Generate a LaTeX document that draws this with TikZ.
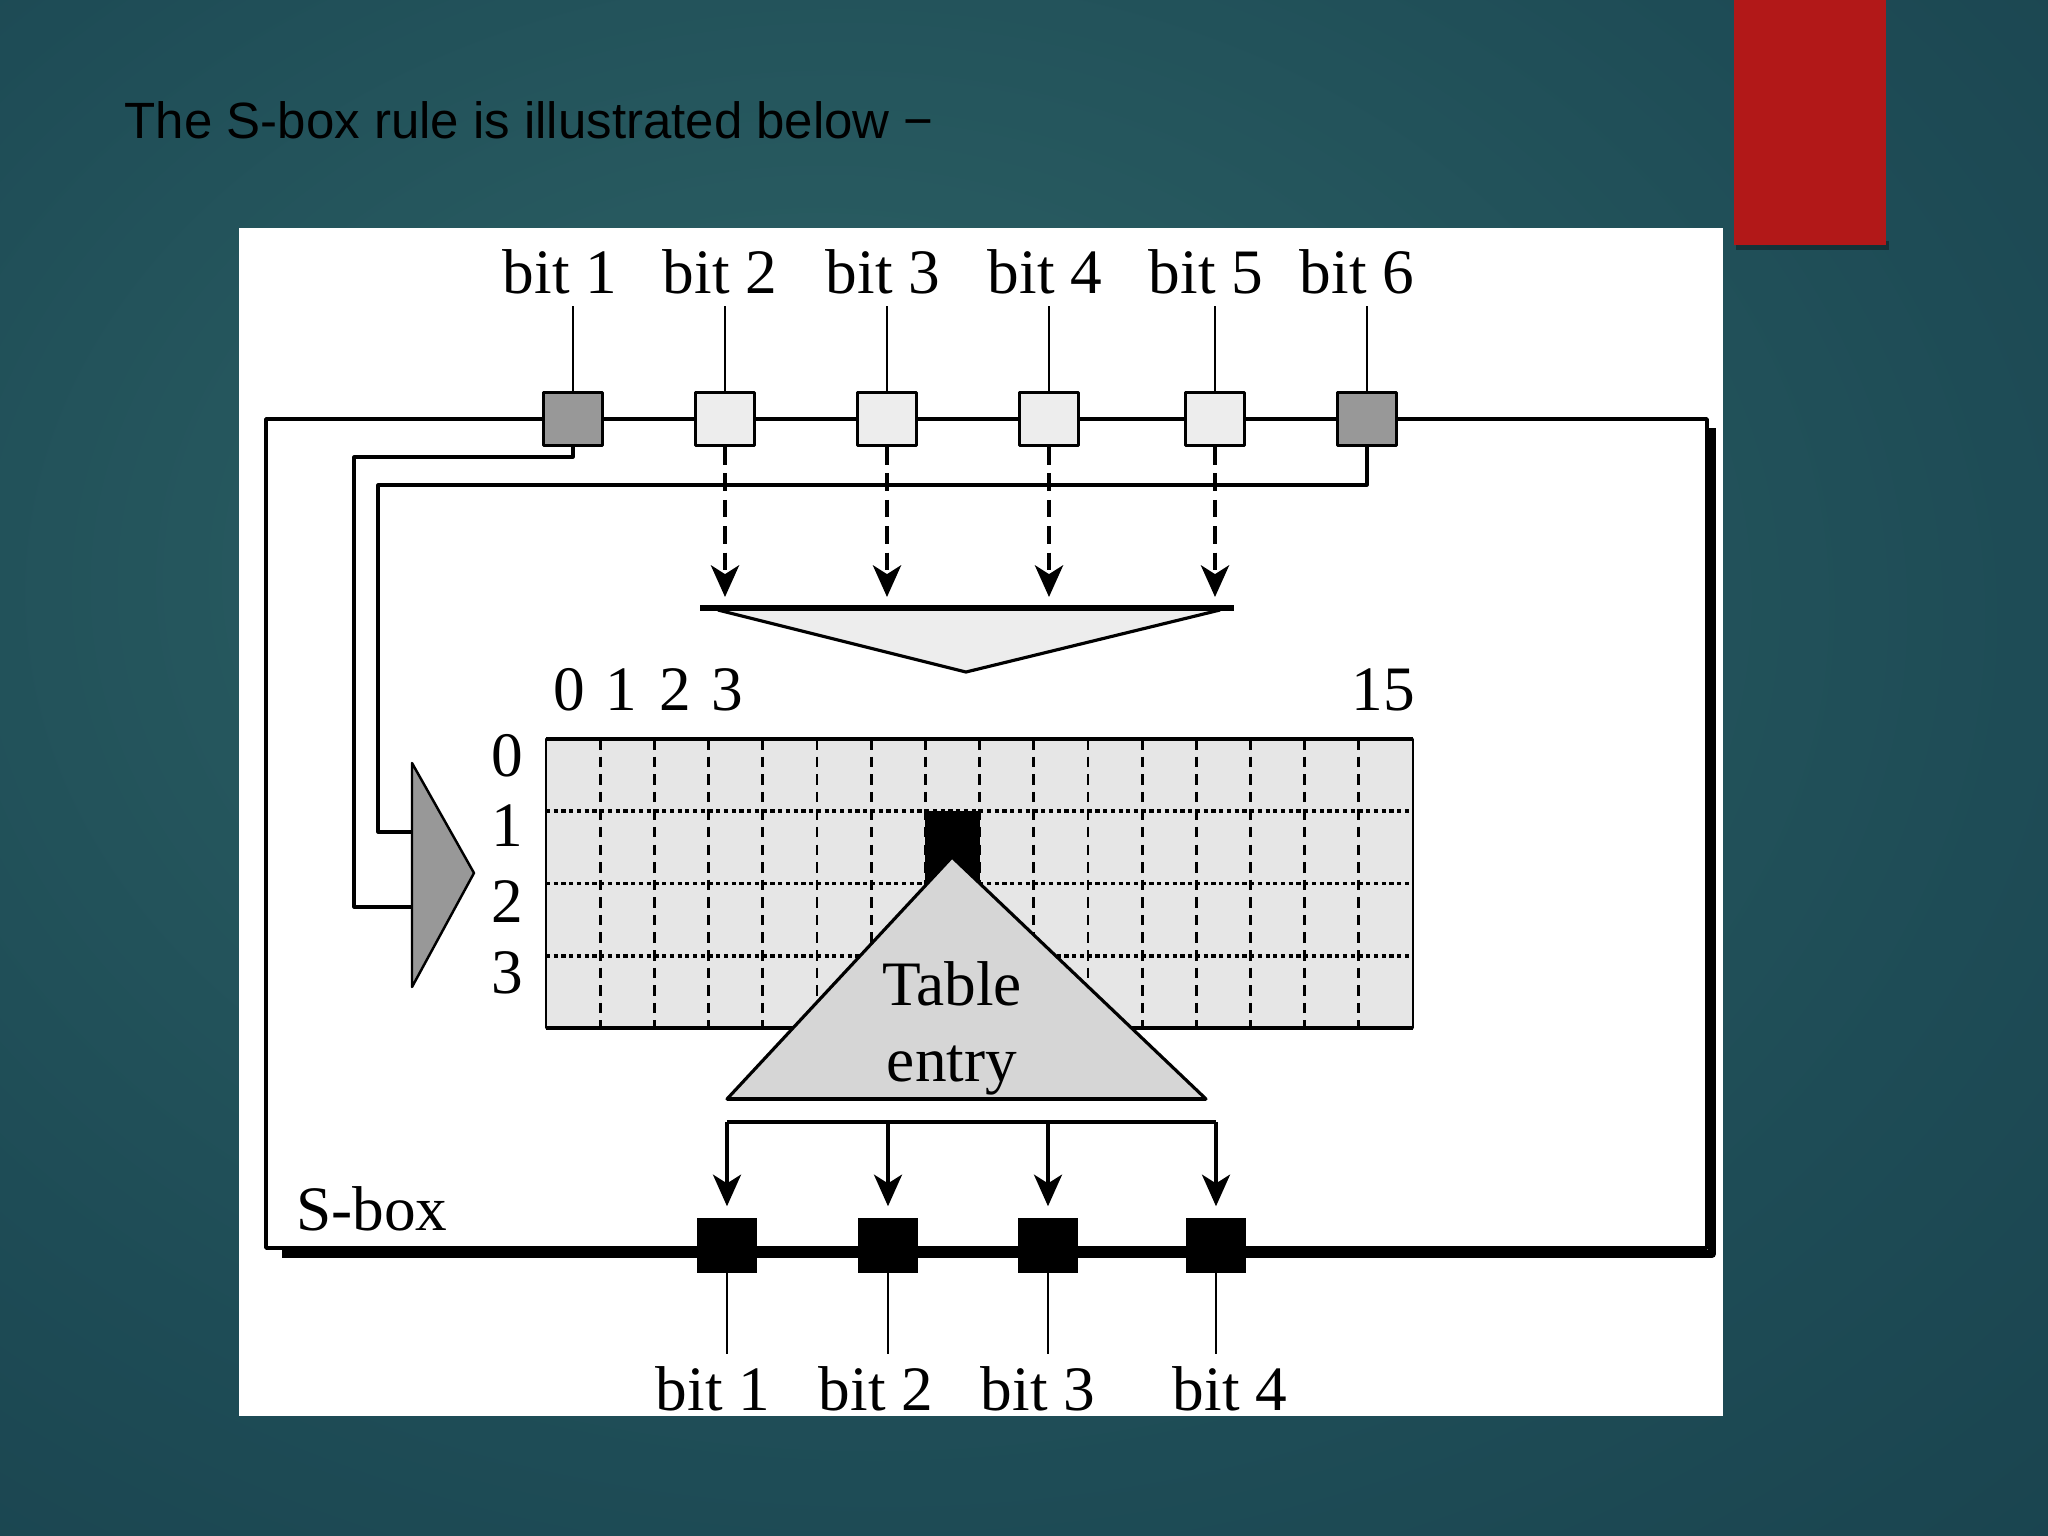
\documentclass[tikz,border=0pt]{standalone}
\usepackage{fontspec}
\setmainfont{Liberation Serif}
\newfontfamily\titlefont{Liberation Sans}
\usetikzlibrary{arrows.meta}
\definecolor{bgdark}{RGB}{16,48,62}
\definecolor{bgmid}{RGB}{30,76,86}
\definecolor{bglight}{RGB}{46,99,102}
\definecolor{slidered}{RGB}{178,24,24}
\definecolor{keygray}{RGB}{152,152,152}
\definecolor{cellgray}{RGB}{230,230,230}
\definecolor{entrygray}{RGB}{214,214,214}
\pgfdeclareradialshading{slidebg}{\pgfpoint{-6bp}{8bp}}{color(0bp)=(bglight); color(28bp)=(bgmid); color(70bp)=(bgdark)}
\tikzset{
  inbox/.style={draw, line width=0.9pt, minimum width=0.59cm, minimum height=0.53cm, inner sep=0pt, fill=cellgray!70!white},
  keybox/.style={inbox, fill=keygray},
  outbox/.style={fill=black, minimum width=0.6cm, minimum height=0.55cm, inner sep=0pt},
  bitlabel/.style={anchor=base},
  wire/.style={line width=0.9pt},
  dasharrow/.style={->, line width=1.2pt, dash pattern=on 5pt off 2.5pt},
  griddash/.style={line width=0.8pt, dash pattern=on 3pt off 2pt},
  griddot/.style={line width=1.1pt, dash pattern=on 1.2pt off 1pt}
}
\begin{document}
\begin{tikzpicture}[x=0.01cm, y=-0.01cm, line join=round, >={Stealth[length=9pt,width=8pt,inset=2.5pt]}, font=\fontsize{18}{21.6}\selectfont]
\shade[shading=slidebg] (0,0) rectangle (2048,1536);
\useasboundingbox (0,0) rectangle (2048,1536);
\fill[black, opacity=0.35] (1736,241) rectangle (1889,250);
\fill[slidered] (1734,0) rectangle (1886,245);
\node[font=\titlefont\fontsize{14.5}{17}\selectfont, anchor=base west, inner sep=0pt] (title) at (124,138) {The S-box rule is illustrated below −};
\fill[white] (239,228) rectangle (1723,1416);
\draw[line width=2.3pt] (282,1254) -| (1712,428);
\draw[line width=1pt] (266,419) rectangle (1707,1248);
\node[anchor=base west] (sbox) at (284,1230) {S-box};
\foreach \i/\x/\s in {1/573/keybox,2/725/inbox,3/887/inbox,4/1049/inbox,5/1215/inbox,6/1367/keybox}
  \node[\s] (in\i) at (\x,419) {};
\foreach \i/\x in {1/560,2/720,3/883,4/1045,5/1206,6/1357}{
  \node[bitlabel] (lin\i) at (\x,293) {bit \i};
  \draw[line width=0.6pt] (in\i.north) -- (in\i.north |- lin\i.south);}
\coordinate (funnel) at (0,597);
\foreach \i in {2,...,5}
  \draw[dasharrow] (in\i.south) -- (in\i.south |- funnel);
\filldraw[fill=cellgray!70!white, line width=0.9pt] (718,610) -- (966,672) -- (1220,610);
\draw[line width=1.6pt] (700,608) -- (1234,608);
\fill[cellgray] (546,739) rectangle (1413,1028);
\foreach \c in {1,...,15}
  \draw[griddash] (546+54.19*\c,739) -- (546+54.19*\c,1028);
\foreach \r in {1,2,3}
  \draw[griddot] (546,739+72.25*\r) -- (1413,739+72.25*\r);
\fill[black] (925.3,811.25) rectangle (979.5,883.5);
\draw[line width=0.7pt] (546,739) rectangle (1413,1028);
\draw[line width=1.4pt] (546,739) -- (1413,739) (546,1028) -- (1413,1028);
\foreach \r/\y in {0/756,1/826,2/902,3/973}
  \node (row\r) at (507,\y) {\r};
\foreach \c/\x in {0/569,1/621,2/675,3/727,15/1383}
  \node (col\c) at (\x,690) {\c};
\filldraw[fill=entrygray, line width=0.9pt] (952,857) -- (1206,1099) -- (727,1099) -- cycle;
\draw[line width=1.4pt] (727,1099) -- (1206,1099);
\node[align=center] (entry) at (952,1028) {Table\\entry};
\filldraw[fill=keygray, line width=0.7pt] (412,763) -- (474,873) -- (412,987) -- cycle;
\coordinate (mux1) at (412,907);
\coordinate (mux6) at (412,832);
\draw[wire] (in1.south) |- (354,457) |- (mux1);
\draw[wire] (in6.south) |- (378,485) |- (mux6);
\coordinate (bus) at (0,1122);
\foreach \i/\x in {1/727,2/888,3/1048,4/1216}
  \node[outbox] (out\i) at (\x,1245) {};
\draw[line width=1.4pt] (out1.north |- bus) -- (out4.north |- bus);
\foreach \i in {1,...,4}
  \draw[->, line width=0.9pt, shorten >=3pt] (out\i.north |- bus) -- (out\i.north);
\foreach \i/\x in {1/713,2/876,3/1038,4/1230}{
  \node[bitlabel] (lout\i) at (\x,1410) {bit \i};
  \draw[line width=0.6pt] (out\i.south) -- (out\i.south |- lout\i.north);}
\end{tikzpicture}
\end{document}
